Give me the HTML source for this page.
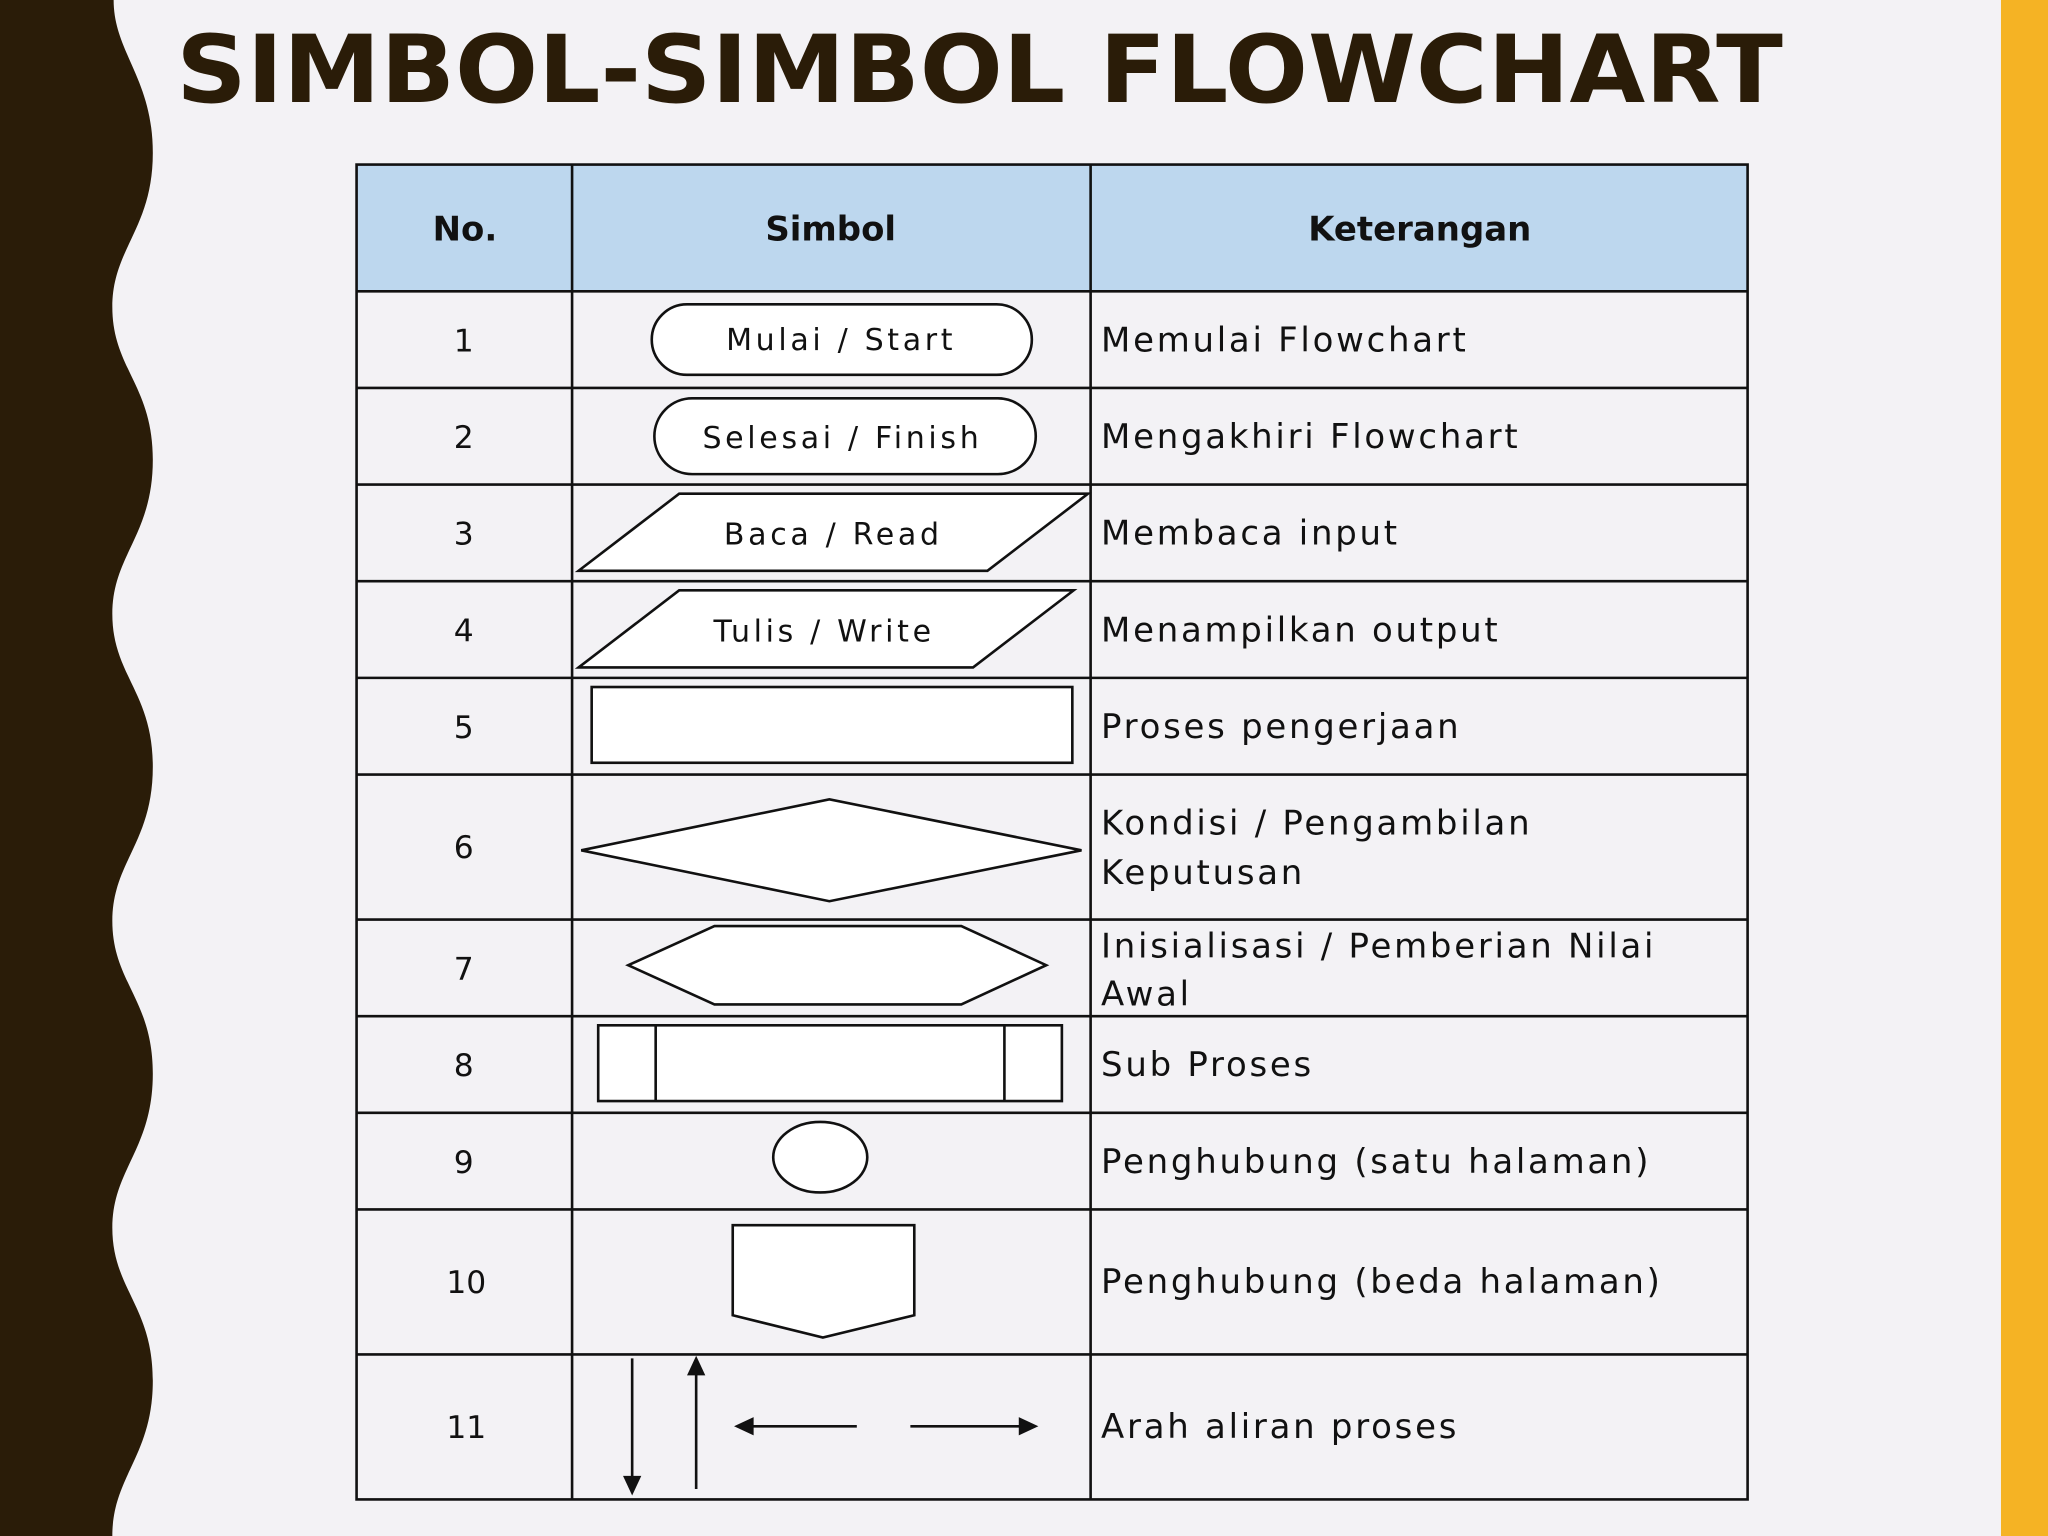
<!DOCTYPE html>
<html><head><meta charset="utf-8"><style>
html,body{margin:0;padding:0;background:#f3f2f5;}
svg{display:block}
text{font-family:"DejaVu Sans","Liberation Sans",sans-serif;fill:#111;}
</style></head><body>
<svg width="2048" height="1536" viewBox="0 0 1568 1176" xmlns="http://www.w3.org/2000/svg">
<rect width="1568" height="1176" fill="#f3f2f5"/>
<rect x="1532" y="0" width="36" height="1176" fill="#f5b324"/>
<path d="M0 0 L87 0 C87 40 117 60 117 117 C117 175 86 190 86 235 C86 282 117 295 117 352 C117 410 86 425 86 470 C86 517 117 530 117 587 C117 645 86 660 86 705 C86 752 117 765 117 822 C117 880 86 895 86 940 C86 987 117 1000 117 1057 C117 1115 86 1130 86 1176 L0 1176 Z" fill="#2a1c08"/>
<text x="135" y="78" font-size="72" font-weight="bold" textLength="1230" lengthAdjust="spacingAndGlyphs" style="fill:#2a1c08">SIMBOL-SIMBOL FLOWCHART</text>
<rect x="273" y="126" width="1065" height="97" fill="#bdd7ee"/>
<g stroke="#111" stroke-width="2" fill="none">
<rect x="273" y="126" width="1065" height="1022"/>
<line x1="438" y1="126" x2="438" y2="1148"/>
<line x1="835" y1="126" x2="835" y2="1148"/>
<line x1="273" y1="223" x2="1338" y2="223"/>
<line x1="273" y1="297" x2="1338" y2="297"/>
<line x1="273" y1="371" x2="1338" y2="371"/>
<line x1="273" y1="445" x2="1338" y2="445"/>
<line x1="273" y1="519" x2="1338" y2="519"/>
<line x1="273" y1="593" x2="1338" y2="593"/>
<line x1="273" y1="704" x2="1338" y2="704"/>
<line x1="273" y1="778" x2="1338" y2="778"/>
<line x1="273" y1="852" x2="1338" y2="852"/>
<line x1="273" y1="926" x2="1338" y2="926"/>
<line x1="273" y1="1037" x2="1338" y2="1037"/>
</g>
<g stroke="#111" stroke-width="2" fill="#fff">
<rect x="499" y="233" width="291" height="54" rx="27"/>
<rect x="501" y="305" width="292" height="58" rx="29"/>
<polygon points="443,437 520,378 833,378 756,437"/>
<polygon points="443,511 520,452 822,452 745,511"/>
<rect x="453" y="526" width="368" height="58"/>
<polygon points="445,651 635,612 828,651 635,690"/>
<polygon points="481,739 547,709 736,709 801,739 736,769 547,769"/>
<rect x="458" y="785" width="355" height="58"/>
<line x1="502" y1="785" x2="502" y2="843"/>
<line x1="769" y1="785" x2="769" y2="843"/>
<ellipse cx="628" cy="886" rx="36" ry="27"/>
<polygon points="561,938 700,938 700,1007 630,1024 561,1007"/>
<line x1="484" y1="1040" x2="484" y2="1132"/>
<line x1="533" y1="1140" x2="533" y2="1050"/>
<line x1="656" y1="1092" x2="575" y2="1092"/>
<line x1="697" y1="1092" x2="782" y2="1092"/>
</g>
<g fill="#111">
<polygon points="477,1130 491,1130 484,1145"/>
<polygon points="526,1053 540,1053 533,1038"/>
<polygon points="577,1085 577,1099 562,1092"/>
<polygon points="780,1085 780,1099 795,1092"/>
</g>
<g font-size="26" font-weight="bold" text-anchor="middle">
<text x="356" y="184">No.</text>
<text x="636" y="184">Simbol</text>
<text x="1087" y="184">Keterangan</text>
</g>
<g font-size="23" text-anchor="middle" letter-spacing="2.8">
<text x="644" y="268">Mulai / Start</text>
<text x="645" y="343">Selesai / Finish</text>
<text x="638" y="417">Baca / Read</text>
<text x="631" y="491">Tulis / Write</text>
</g>
<g font-size="24" text-anchor="middle">
<text x="355" y="269">1</text>
<text x="355" y="343">2</text>
<text x="355" y="417">3</text>
<text x="355" y="491">4</text>
<text x="355" y="565">5</text>
<text x="355" y="657">6</text>
<text x="355" y="750">7</text>
<text x="355" y="824">8</text>
<text x="355" y="898">9</text>
<text x="357" y="990">10</text>
<text x="357" y="1101">11</text>
</g>
<g font-size="26" letter-spacing="2.1">
<text x="843" y="269">Memulai Flowchart</text>
<text x="843" y="343">Mengakhiri Flowchart</text>
<text x="843" y="417">Membaca input</text>
<text x="843" y="491">Menampilkan output</text>
<text x="843" y="565">Proses pengerjaan</text>
<text x="843" y="639">Kondisi / Pengambilan</text>
<text x="843" y="677">Keputusan</text>
<text x="843" y="733">Inisialisasi / Pemberian Nilai</text>
<text x="843" y="770">Awal</text>
<text x="843" y="824">Sub Proses</text>
<text x="843" y="898">Penghubung (satu halaman)</text>
<text x="843" y="990">Penghubung (beda halaman)</text>
<text x="843" y="1101">Arah aliran proses</text>
</g>
</svg>
</body></html>
